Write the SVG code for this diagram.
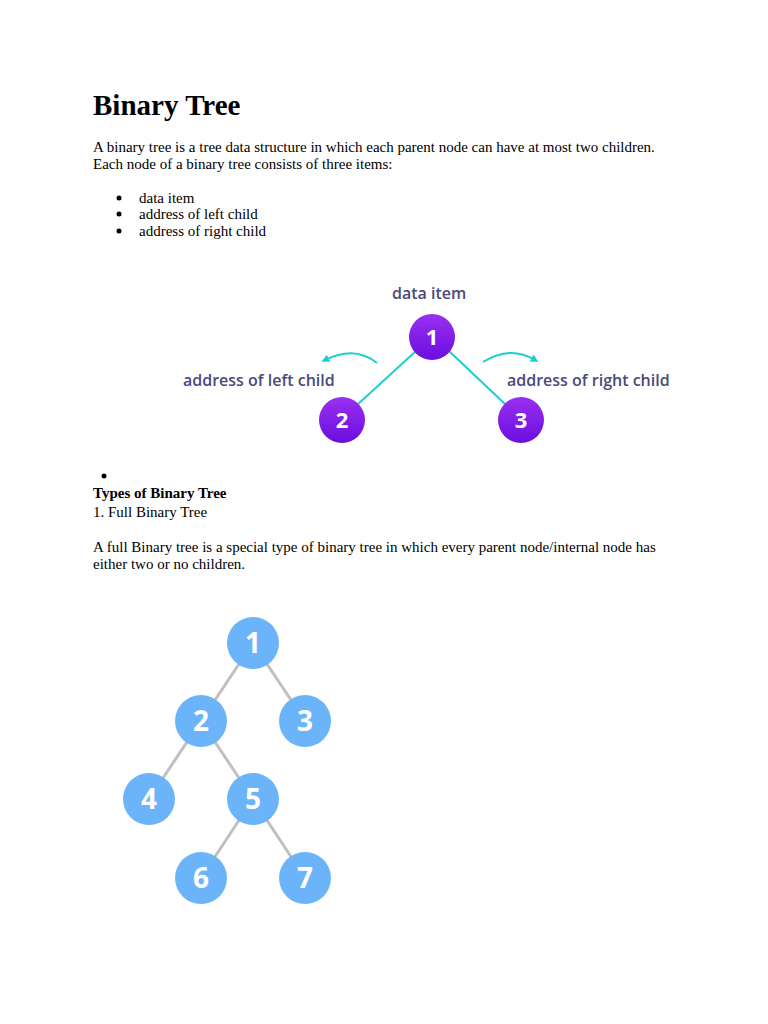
<svg xmlns="http://www.w3.org/2000/svg" width="768" height="1024" viewBox="0 0 768 1024">
<style>
.t{font-family:"Liberation Serif",serif;font-size:15px;fill:#000}
.lab{font-family:"Open Sans","DejaVu Sans",sans-serif;font-size:16px;fill:#4a4a7a;font-weight:600}
.pn{fill:url(#pg)}
.pt{font-family:"Open Sans","DejaVu Sans",sans-serif;font-size:22px;font-weight:700;fill:#fff;text-anchor:middle}
.bn{fill:#6cb4fa}
.bt{font-family:"Open Sans","DejaVu Sans",sans-serif;font-size:28px;font-weight:700;fill:#fff;text-anchor:middle}
.tl{stroke:#1ccfcf;stroke-width:2;fill:none}
.gl{stroke:#c0c0c0;stroke-width:3}
</style>
<defs>
<linearGradient id="pg" x1="0" y1="0" x2="0" y2="1"><stop offset="0" stop-color="#9a2ff0"/><stop offset="1" stop-color="#6a0ee0"/></linearGradient>
<marker id="ah" viewBox="0 0 10 10" refX="5" refY="5" markerWidth="4" markerHeight="4" orient="auto"><path d="M0,0L10,5L0,10z" fill="#1ccfcf"/></marker>
</defs>
<rect width="768" height="1024" fill="#fff"/>
<text x="93" y="115" style="font-family:'Liberation Serif',serif;font-size:29px;font-weight:bold">Binary Tree</text>
<text class="t" x="93" y="152">A binary tree is a tree data structure in which each parent node can have at most two children.</text>
<text class="t" x="93" y="169">Each node of a binary tree consists of three items:</text>
<g class="t"><circle cx="119" cy="198" r="2.5"/><circle cx="119" cy="214" r="2.5"/><circle cx="119" cy="231" r="2.5"/><circle cx="104" cy="476" r="2.5"/></g>
<text class="t" x="139" y="203">data item</text>
<text class="t" x="139" y="219">address of left child</text>
<text class="t" x="139" y="236">address of right child</text>
<g id="connectors">
<line class="tl" x1="416" y1="351" x2="357" y2="405"/>
<line class="tl" x1="449" y1="351" x2="506" y2="405"/>
<path class="tl" stroke-width="3" d="M377,363 Q355,345 325,360" marker-end="url(#ah)"/>
<path class="tl" stroke-width="3" d="M483,362 Q510,345 535,360" marker-end="url(#ah)"/>
<g class="gl">
<line x1="253" y1="643" x2="201" y2="721"/><line x1="253" y1="643" x2="305" y2="721"/>
<line x1="201" y1="721" x2="149" y2="799"/><line x1="201" y1="721" x2="253" y2="799"/>
<line x1="253" y1="799" x2="201" y2="878"/><line x1="253" y1="799" x2="305" y2="878"/>
</g>
</g>
<text class="lab" x="392" y="299">data item</text>
<text class="lab" x="183" y="386">address of left child</text>
<text class="lab" x="507" y="386">address of right child</text>
<g id="p1"><circle class="pn" cx="432" cy="337" r="23"/><text class="pt" x="432" y="345">1</text></g>
<g id="p2"><circle class="pn" cx="342" cy="420" r="23"/><text class="pt" x="342" y="428">2</text></g>
<g id="p3"><circle class="pn" cx="521" cy="420" r="23"/><text class="pt" x="521" y="428">3</text></g>
<text x="93" y="498" style="font-family:'Liberation Serif',serif;font-size:15px;font-weight:bold">Types of Binary Tree</text>
<text class="t" x="93" y="517">1. Full Binary Tree</text>
<text class="t" x="93" y="552">A full Binary tree is a special type of binary tree in which every parent node/internal node has</text>
<text class="t" x="93" y="569">either two or no children.</text>
<g id="n1"><circle class="bn" cx="253" cy="643" r="26"/><text class="bt" x="253" y="653">1</text></g>
<g id="n2"><circle class="bn" cx="201" cy="721" r="26"/><text class="bt" x="201" y="731">2</text></g>
<g id="n3"><circle class="bn" cx="305" cy="721" r="26"/><text class="bt" x="305" y="731">3</text></g>
<g id="n4"><circle class="bn" cx="149" cy="799" r="26"/><text class="bt" x="149" y="809">4</text></g>
<g id="n5"><circle class="bn" cx="253" cy="799" r="26"/><text class="bt" x="253" y="809">5</text></g>
<g id="n6"><circle class="bn" cx="201" cy="878" r="26"/><text class="bt" x="201" y="888">6</text></g>
<g id="n7"><circle class="bn" cx="305" cy="878" r="26"/><text class="bt" x="305" y="888">7</text></g>
</svg>
